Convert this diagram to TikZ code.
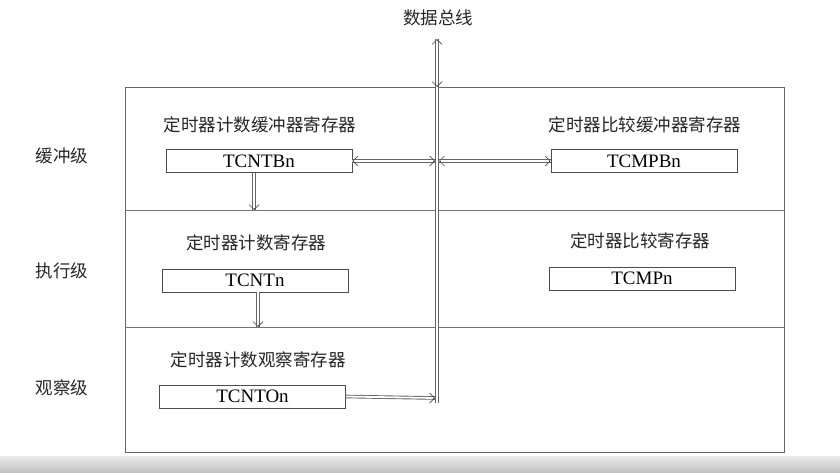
\documentclass[tikz,border=0pt]{standalone}
\usepackage{fontspec}
\setmainfont{Liberation Serif}
\newfontfamily\cjk{Noto Sans CJK SC}
\usetikzlibrary{arrows.meta,calc}
\begin{document}
\begin{tikzpicture}[x=1pt,y=-1pt,
  reg/.style={draw=black!70,line width=0.7pt,minimum width=186pt,minimum height=23pt,inner sep=0pt,font=\fontsize{19}{19}\selectfont},
  lab/.style={font=\cjk\fontsize{17.5}{17.5}\selectfont,text=black!85},
  dl/.style={draw=black!60,line width=3.6pt,postaction={draw=white,line width=1.8pt}},
  barb/.style={draw=black!70,line width=0.7pt,-{Straight Barb[length=5pt,width=10pt]}}]
\useasboundingbox (0,0) rectangle (840,473);
\shade[top color=black!8,bottom color=black!25] (0,456) rectangle (840,473);
\draw[black!60,line width=0.9pt] (125,87) rectangle (784,452);
\draw[black!55,line width=0.7pt] (125,210) -- (784,210);
\draw[black!55,line width=0.7pt] (125,327) -- (784,327);
\node[lab] (t0) at (438,18) {数据总线};
\node[lab] (l1) at (62,156) {缓冲级};
\node[lab] (l2) at (62,271) {执行级};
\node[lab] (l3) at (62,388) {观察级};
\node[lab] (c1) at (260,125) {定时器计数缓冲器寄存器};
\node[lab] (c2) at (645,125) {定时器比较缓冲器寄存器};
\node[lab] (c3) at (256,243) {定时器计数寄存器};
\node[lab] (c4) at (640,241) {定时器比较寄存器};
\node[lab] (c5) at (258,360) {定时器计数观察寄存器};
\node[reg] (b1) at (259,161) {TCNTBn};
\node[reg] (b2) at (644,161) {TCMPBn};
\node[reg] (b3) at (255,280.5) {TCNTn};
\node[reg] (b4) at (642,278.5) {TCMPn};
\node[reg] (b5) at (252.5,396.5) {TCNTOn};
\coordinate (btop) at (437,39);
\coordinate (bbot) at (437,403);
\coordinate (bmid) at (437,161);
\coordinate (bin) at (437,87);
\coordinate (d1) at (254,210);
\coordinate (d2) at (258,327);
\coordinate (e5) at (437,398);
% bus
\draw[dl] (bbot) -- (btop);
\draw[barb] ($(btop)+(0,2)$) -- (btop);
\draw[barb] ($(bin)+(0,-2)$) -- (bin);
% horizontal links
\draw[dl] (b1.east) -- (435,161);
\draw[dl] (439,161) -- (b2.west);
\draw[barb] ($(b1.east)+(2,0)$) -- (b1.east);
\draw[barb] (433,161) -- (435,161);
\draw[barb] (441,161) -- (439,161);
\draw[barb] ($(b2.west)+(-2,0)$) -- (b2.west);
% vertical
\draw[dl] (b1.south -| d1) -- (d1);
\draw[barb] ($(d1)+(0,-2)$) -- (d1);
\draw[dl] (b3.south -| d2) -- (d2);
\draw[barb] ($(d2)+(0,-2)$) -- (d2);
\draw[dl] (b5.east) -- (435,398);
\draw[barb] (433,398) -- (435,398);
\end{tikzpicture}
\end{document}
